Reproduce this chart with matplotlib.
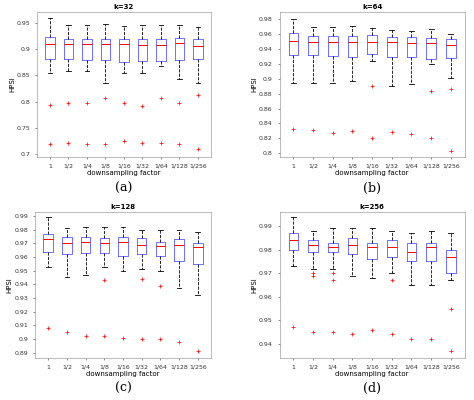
import matplotlib.pyplot as plt

factors = ['1', '1/2', '1/4', '1/8', '1/16', '1/32', '1/64', '1/128', '1/256']

# per box: whislo, q1, med, q3, whishi
k32_stats = [
    (.855, .881, .910, .923, .958), (.857, .880, .909, .918, .945),
    (.858, .878, .909, .918, .946), (.835, .878, .909, .918, .948),
    (.855, .875, .909, .919, .944), (.855, .877, .908, .919, .946),
    (.868, .877, .908, .919, .945), (.843, .878, .911, .921, .945),
    (.835, .880, .906, .918, .941)]
k32_fliers = [[.794, .720], [.797, .721], [.797, .720], [.806, .719], [.798, .725],
              [.792, .721], [.807, .722], [.797, .719], [.812, .709]]

k64_stats = [
    (.895, .932, .951, .962, .981), (.894, .932, .949, .958, .970),
    (.894, .931, .950, .958, .970), (.897, .929, .949, .958, .971),
    (.924, .933, .950, .959, .969), (.890, .930, .950, .957, .966),
    (.893, .930, .948, .957, .965), (.920, .927, .948, .955, .967),
    (.901, .928, .946, .953, .961)]
k64_fliers = [[.833], [.831], [.827], [.830], [.891, .820], [.829], [.826],
              [.883, .820], [.886, .803]]

k128_stats = [
    (.953, .964, .973, .977, .989), (.945, .962, .970, .975, .981),
    (.947, .963, .971, .975, .982), (.953, .963, .970, .974, .982),
    (.950, .961, .971, .975, .982), (.951, .962, .969, .974, .980),
    (.950, .961, .968, .971, .980), (.937, .957, .969, .973, .980),
    (.932, .955, .967, .970, .978)]
k128_fliers = [[.908], [.905], [.902], [.943, .902], [.901], [.944, .900],
               [.939, .900], [.898], [.891]]

k256_stats = [
    (.973, .980, .984, .987, .994), (.972, .979, .982, .984, .988),
    (.972, .979, .981, .983, .989), (.969, .978, .982, .985, .989),
    (.968, .976, .981, .983, .989), (.970, .977, .981, .984, .988),
    (.965, .975, .979, .983, .987), (.965, .975, .981, .983, .988),
    (.967, .970, .977, .980, .987)]
k256_fliers = [[.947], [.970, .969, .945], [.970, .967, .945], [.944], [.946],
               [.967, .944], [.942], [.942], [.955, .937]]

panels = [
    ('k=32', k32_stats, k32_fliers, (0.695, 0.97), [.7, .75, .8, .85, .9, .95], '(a)'),
    ('k=64', k64_stats, k64_fliers, (0.795, 0.99), [.8, .82, .84, .86, .88, .9, .92, .94, .96, .98], '(b)'),
    ('k=128', k128_stats, k128_fliers, (0.886, 0.993), [.89, .9, .91, .92, .93, .94, .95, .96, .97, .98, .99], '(c)'),
    ('k=256', k256_stats, k256_fliers, (0.934, 0.996), [.94, .95, .96, .97, .98, .99], '(d)'),
]

rects = [(0.078, 0.608, 0.367, 0.362), (0.59, 0.608, 0.39, 0.362),
         (0.074, 0.105, 0.371, 0.365), (0.59, 0.105, 0.39, 0.365)]
caption_pos = [(0.26, 0.53), (0.785, 0.53), (0.26, 0.028), (0.785, 0.028)]

fig = plt.figure(figsize=(4.74, 4.0), dpi=100)
for (title, stats, fliers, ylim, ticks, cap), rect, cp in zip(panels, rects, caption_pos):
    ax = fig.add_axes(rect)
    bx = []
    for s, f, lab in zip(stats, fliers, factors):
        bx.append(dict(whislo=s[0], q1=s[1], med=s[2], q3=s[3], whishi=s[4],
                       fliers=f, label=lab))
    ax.bxp(bx, widths=0.5, capwidths=0.25,
           boxprops=dict(color='#5a5aff', lw=0.6),
           medianprops=dict(color='red', lw=0.7),
           whiskerprops=dict(color='black', lw=0.6, ls='--'),
           capprops=dict(color='black', lw=0.6),
           flierprops=dict(marker='+', markeredgecolor='red', markersize=3, markeredgewidth=0.5))
    ax.set_ylim(*ylim)
    ax.set_yticks(ticks)
    ax.set_yticklabels([f'{t:g}' for t in ticks])
    ax.set_xlim(0.3, 9.7)
    ax.tick_params(labelsize=4.5, length=1.5, width=0.4, colors='#333333')
    for sp in ax.spines.values():
        sp.set_linewidth(0.4)
        sp.set_color('#888888')
    ax.set_title(title, fontsize=5, fontweight='bold', pad=2)
    ax.set_xlabel('downsampling factor', fontsize=5, labelpad=1)
    ax.set_ylabel('HPSI', fontsize=5, labelpad=1)
    fig.text(cp[0], cp[1], cap, fontsize=9, family='DejaVu Serif', ha='center', va='center')

fig.savefig('out.png', dpi=100)
